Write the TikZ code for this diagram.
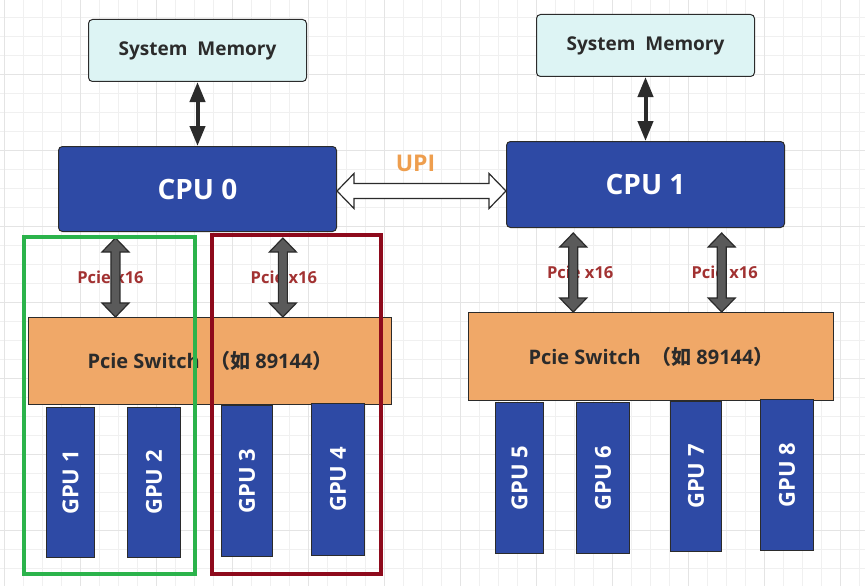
\documentclass[tikz,border=0pt]{standalone}
\usepackage{fontspec}
\setmainfont{Open Sans}
\newfontfamily\cjk{Noto Sans CJK SC}
\usepackage{graphicx}
\usepackage{tikz}
\usetikzlibrary{calc, arrows.meta}
\definecolor{hwBlue}{HTML}{2E4AA5}
\definecolor{hwMem}{HTML}{DDF4F4}
\definecolor{hwSwitch}{HTML}{F0A868}
\definecolor{hwDark}{HTML}{2B2B2B}
\definecolor{hwArrow}{HTML}{5A5A5A}
\definecolor{hwGreen}{HTML}{2BB34B}
\definecolor{hwRed}{HTML}{8E0A1C}
\definecolor{hwUpi}{HTML}{EE9E4E}
\definecolor{hwPcie}{HTML}{A23232}
\definecolor{gridMinor}{HTML}{F0F0F0}
\definecolor{gridMajor}{HTML}{E4E4E4}
% block arrow with two heads: style, from, to, shaft half width, head half width, head length
\newcommand{\fatlink}[6]{%
  \coordinate (fa) at ($(#2)!#6!(#3)$);
  \coordinate (fb) at ($(#3)!#6!(#2)$);
  \draw[#1] (#2) -- ($(fa)!#5!90:(#3)$) -- ($(fa)!#4!90:(#3)$)
    -- ($(fb)!#4!-90:(#2)$) -- ($(fb)!#5!-90:(#2)$) -- (#3)
    -- ($(fb)!#5!90:(#2)$) -- ($(fb)!#4!90:(#2)$)
    -- ($(fa)!#4!-90:(#3)$) -- ($(fa)!#5!-90:(#3)$) -- cycle;
}
\begin{document}
\begin{tikzpicture}[x=1pt, y=-1pt,
  box/.style={draw=hwDark, line width=1pt, inner sep=0pt, anchor=north west},
  membox/.style={box, rounded corners=4pt, fill=hwMem, text=hwDark,
    minimum width=218pt, minimum height=62pt,
    font=\bfseries\fontsize{19}{23}\selectfont},
  cpubox/.style={box, rounded corners=4pt, fill=hwBlue, text=white,
    minimum width=278pt, minimum height=85pt,
    font=\bfseries\fontsize{28}{32}\selectfont},
  swbox/.style={box, fill=hwSwitch, text=hwDark,
    font=\bfseries\fontsize{20}{24}\selectfont},
  gpubox/.style={box, fill=hwBlue, text=white,
    font=\bfseries\fontsize{22}{26}\selectfont},
  grp/.style={draw, line width=3.5pt, inner sep=0pt, anchor=north west},
  memlink/.style={draw=hwDark, line width=4pt,
    {Triangle[length=20pt,width=15pt]}-{Triangle[length=20pt,width=15pt]}},
  pcielink/.style={fill=hwArrow, draw=hwDark, line width=1.2pt},
  upilink/.style={fill=white, draw=hwDark, line width=1.2pt},
  pcielbl/.style={text=hwPcie, font=\bfseries\fontsize{16.5}{18}\selectfont},
  upilbl/.style={text=hwUpi, font=\bfseries\fontsize{23}{26}\selectfont}]

  \useasboundingbox[fill=white] (0,0) rectangle (865,586);
  % background grid
  \foreach \i in {0,...,45}
    \draw[gridMinor, line width=0.8pt] (4+19*\i,0) -- (4+19*\i,586);
  \foreach \j in {0,...,30}
    \draw[gridMinor, line width=0.8pt] (0,17+19*\j) -- (865,17+19*\j);
  \foreach \i in {0,...,11}
    \draw[gridMajor, line width=0.9pt] (4+76*\i,0) -- (4+76*\i,586);
  \foreach \j in {0,...,7}
    \draw[gridMajor, line width=0.9pt] (0,74+76*\j) -- (865,74+76*\j);

  % memory and CPUs
  \node[membox] (mem0) at (88,19) {System\ \ Memory};
  \node[cpubox] (cpu0) at (58,146) {CPU 0};
  \node[membox] (mem1) at (536,14) {System\ \ Memory};
  \node[cpubox, minimum height=86pt] (cpu1) at (506,141) {CPU 1};

  % switches
  \node[swbox, minimum width=363pt, minimum height=87pt] (sw0) at (28,317)
    {Pcie Switch\ \ {\cjk\bfseries （如} 89144{\cjk\bfseries ）}};
  \node[swbox, minimum width=365pt, minimum height=88pt] (sw1) at (468,312)
    {Pcie Switch\ \ {\cjk\bfseries （如} 89144{\cjk\bfseries ）}};

  % GPUs
  \foreach \n/\x/\y/\w/\h in {1/46/407/48/150, 2/127/407/53/150,
      3/221/405/51/151, 4/311/403/53/152, 5/495/402/48/151,
      6/576/402/53/151, 7/670/401/51/150, 8/760/399/53/151}
    \node[gpubox, minimum width=\w pt, minimum height=\h pt] (g\n) at (\x,\y)
      {\rotatebox{90}{GPU \n}};

  % memory links
  \draw[memlink] (mem0) -- (cpu0);
  \draw[memlink] (mem1) -- (cpu1);

  % UPI
  \coordinate (u0) at ($(cpu0.east)+(0,2)$);
  \coordinate (u1) at (cpu1.west |- u0);
  \node[upilbl] (upi) at ($(u0)!0.5!(u1)+(-6,-28)$) {UPI};
  \fatlink{upilink}{u0}{u1}{7.5pt}{17.5pt}{17pt}

  % PCIe x16 links
  \coordinate (p1) at ($(cpu0.south west)!0.206!(cpu0.south east)+(0,6)$);
  \coordinate (p2) at ($(cpu0.south west)!0.806!(cpu0.south east)+(0,6)$);
  \coordinate (p3) at ($(cpu1.south west)!0.241!(cpu1.south east)+(0,5)$);
  \coordinate (p4) at ($(cpu1.south west)!0.773!(cpu1.south east)+(0,5)$);
  \coordinate (q1) at (p1 |- sw0.north);
  \coordinate (q2) at (p2 |- sw0.north);
  \coordinate (q3) at (p3 |- sw1.north);
  \coordinate (q4) at (p4 |- sw1.north);
  \node[pcielbl] (l1) at ($(p1)!0.5!(q1)+(-5,0)$) {Pcie x16};
  \node[pcielbl] (l2) at ($(p2)!0.5!(q2)+(1,0)$) {Pcie x16};
  \node[pcielbl] (l3) at ($(p3)!0.5!(q3)+(7,0)$) {Pcie x16};
  \node[pcielbl] (l4) at ($(p4)!0.5!(q4)+(3,0)$) {Pcie x16};
  \fatlink{pcielink}{p1}{q1}{4.5pt}{13.5pt}{14pt}
  \fatlink{pcielink}{p2}{q2}{4.5pt}{13.5pt}{14pt}
  \fatlink{pcielink}{p3}{q3}{4.5pt}{13.5pt}{14pt}
  \fatlink{pcielink}{p4}{q4}{4.5pt}{13.5pt}{14pt}

  % groups
  \node[grp, draw=hwGreen, minimum width=171pt, minimum height=337pt] (grpA) at (22,235) {};
  \node[grp, draw=hwRed, minimum width=169pt, minimum height=339pt] (grpB) at (210,233) {};
\end{tikzpicture}
\end{document}
